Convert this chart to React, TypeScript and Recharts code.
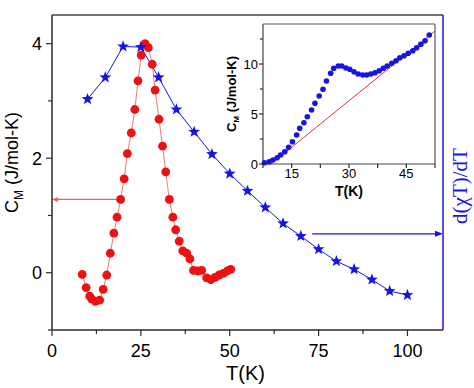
import React from "react";
import { ComposedChart, Line, ReferenceLine, XAxis, YAxis } from "recharts";

// main panel: magnetic heat capacity (red) and d(chiT)/dT (blue stars)
const redT = [
  8.5, 9.6, 10.6, 11.2, 12.2, 13.4, 14.4, 15.4, 16.4, 17.4, 18.3, 19.3, 20.3,
  21.2, 22.3, 23.3, 24.2, 25.1, 26.2, 27.1, 28.2, 29.0, 30.1, 31.1, 32.0, 33.0,
  34.0, 34.8, 35.8, 36.8, 37.9, 38.8, 39.8, 41.0, 42.1, 43.5, 44.7, 45.9, 47.0,
  48.2, 49.3, 50.3,
];
const redCm = [
  -0.03, -0.26, -0.41, -0.46, -0.5, -0.48, -0.29, -0.04, 0.34, 0.69, 0.97,
  1.28, 1.64, 2.08, 2.44, 2.85, 3.35, 3.8, 4.0, 3.93, 3.64, 3.19, 2.68, 2.21,
  1.76, 1.28, 0.97, 0.75, 0.55, 0.38, 0.34, 0.24, 0.04, 0.03, 0.04, -0.09,
  -0.12, -0.08, -0.04, -0.01, 0.03, 0.06,
];
const starT = [
  10, 15, 20, 25, 30, 35, 40, 45, 50, 55, 60, 65, 70, 75, 80, 85, 90, 95, 100,
];
const starD = [
  3.03, 3.41, 3.95, 3.94, 3.41, 2.85, 2.46, 2.07, 1.73, 1.43, 1.14, 0.86, 0.64,
  0.41, 0.2, 0.06, -0.12, -0.32, -0.39,
];
const mainXTicks = [0, 12.5, 25, 37.5, 50, 62.5, 75, 87.5, 100];
const mainXLabels = [0, 25, 50, 75, 100];
const mainYTicks = [-1, 0, 1, 2, 3, 4];
const mainYLabels = [0, 2, 4];

// inset: total C (blue) and lattice line (red)
const insetT = [
  7.9, 9.1, 10.1, 11.2, 12.1, 13.2, 14.2, 15.2, 16.3, 17.1, 18.2, 19.1, 20.2,
  21.1, 22.2, 23.2, 24.1, 25.2, 26.0, 27.2, 28.1, 29.2, 30.2, 31.3, 32.4, 33.6,
  34.6, 35.7, 36.8, 37.9, 39.0, 40.0, 41.2, 42.3, 43.3, 44.4, 45.5, 46.7, 47.7,
  48.8, 49.9, 51.0,
];
const insetC = [
  0.13, 0.23, 0.4, 0.63, 0.9, 1.23, 1.67, 2.23, 2.9, 3.57, 4.13, 4.73, 5.4,
  6.07, 6.8, 7.47, 8.3, 9.07, 9.57, 9.8, 9.8, 9.6, 9.47, 9.23, 9.0, 8.9, 8.9,
  9.0, 9.13, 9.33, 9.57, 9.8, 10.07, 10.33, 10.63, 10.83, 11.07, 11.33, 11.63,
  11.97, 12.33, 12.9,
];
const latticeT = [9.6, 52.5];
const latticeC = [0, 13.3];
const insetXTicks = [7.5, 15, 22.5, 30, 37.5, 45, 52.5];
const insetXLabels = [15, 30, 45];
const insetYTicks = [0, 2.5, 5, 7.5, 10, 12.5];
const insetYLabels = [0, 5, 10];

const zip = (xs: number[], ys: number[]) => xs.map((t, i) => ({ t, v: ys[i] }));
const redData = zip(redT, redCm);
const starData = zip(starT, starD);
const insetData = zip(insetT, insetC);
const latticeData = zip(latticeT, latticeC);

const SANS = "'Liberation Sans', Arial, sans-serif";
const SERIF = "'Liberation Serif', 'Times New Roman', serif";
const RED = "#ee1111";
const BLUE = "#1414e6";
const AXIS = "#2a2a2a";

type TickOpts = {
  axis: "x" | "y";
  labels: number[];
  size: number;
  gap: number;
  major: number;
  minor: number;
};

const isIn = (list: number[], v: number) => list.some((l) => Math.abs(l - v) < 1e-6);

// custom tick: tick line plus a label for the major values only
const makeTick = (o: TickOpts) => (props: any) => {
  const { x, y, payload } = props;
  const val = Number(payload.value);
  const isMajor = isIn(o.labels, val);
  const len = isMajor ? o.major : o.minor;
  if (o.axis === "x") {
    return (
      <g>
        <line x1={x} x2={x} y1={y} y2={y + len} stroke={AXIS} strokeWidth={1.2} />
        {isMajor && (
          <text x={x} y={y + o.gap} dy="0.36em" textAnchor="middle" fontSize={o.size}
            fontFamily={SANS} fill="#000">{String(val)}</text>
        )}
      </g>
    );
  }
  return (
    <g>
      <line x1={x - len} x2={x} y1={y} y2={y} stroke={AXIS} strokeWidth={1.2} />
      {isMajor && (
        <text x={x - o.gap} y={y} dy="0.36em" textAnchor="end" fontSize={o.size}
          fontFamily={SANS} fill="#000">{String(val)}</text>
      )}
    </g>
  );
};

const Star = (props: any) => {
  const { cx, cy } = props;
  if (cx == null || cy == null) return <g />;
  const pts = Array.from({ length: 10 }, (_, i) => {
    const a = ((-90 + i * 36) * Math.PI) / 180;
    const r = i % 2 ? 2.6 : 6.2;
    return `${cx + r * Math.cos(a)},${cy + r * Math.sin(a)}`;
  }).join(" ");
  return <polygon points={pts} fill={BLUE} />;
};

const arrow = (color: string, len: number, half: number) => (p: any) => {
  const x1 = Number(p.x1), x2 = Number(p.x2), y1 = Number(p.y1), y2 = Number(p.y2);
  const dir = Math.sign(x2 - x1);
  return (
    <g>
      <line x1={x1} y1={y1} x2={x2 - dir * len} y2={y2} stroke={color} strokeWidth={1.2} />
      <polygon points={`${x2},${y2} ${x2 - dir * len},${y2 - half} ${x2 - dir * len},${y2 + half}`} fill={color} />
    </g>
  );
};

const CmTitle = ({ cx, cy, size, sub, bold }: any) => (
  <text transform={`translate(${cx},${cy}) rotate(-90)`} textAnchor="middle"
    fontSize={size} fontFamily={SANS} fontWeight={bold ? "bold" : "normal"} fill="#000">
    C<tspan fontSize={sub} dy={size * 0.25}>M</tspan>
    <tspan dy={-size * 0.25}> (J/mol-K)</tspan>
  </text>
);

const MainYTitle = (props: any) => {
  const vb = props.viewBox || { x: 0, y: 15, width: 52, height: 315 };
  return <CmTitle cx={vb.x + 18} cy={vb.y + vb.height / 2 - 10} size={18} sub={12} />;
};
const MainXTitle = (props: any) => {
  const vb = props.viewBox || { x: 52, y: 330, width: 391, height: 58 };
  return (
    <text x={vb.x + vb.width / 2 - 2} y={vb.y + 43} dy="0.36em" textAnchor="middle"
      fontSize={20} fontFamily={SANS} fill="#000">T(K)</text>
  );
};
const RightTitle = (props: any) => {
  const vb = props.viewBox || { x: 443, y: 15, width: 31, height: 315 };
  const cx = vb.x + 24;
  const cy = 186;
  return (
    <text transform={`translate(${cx},${cy}) rotate(-90)`} textAnchor="middle"
      fontSize={21} fontFamily={SERIF} fill={BLUE}>d(χT)/dT</text>
  );
};
const InsetYTitle = (props: any) => {
  const vb = props.viewBox || { x: 0, y: 6, width: 49, height: 140 };
  return <CmTitle cx={vb.x + 22} cy={vb.y + vb.height / 2} size={13} sub={8} bold />;
};

const App = () => (
  <div style={{ position: "absolute", left: 0, top: 0, width: 474, height: 388, background: "#fff" }}>
    <div style={{ position: "absolute", left: 0, top: 0, zIndex: 1 }}>
      <ComposedChart width={474} height={388} margin={{ top: 15, right: 0, bottom: 0, left: 0 }}>
        <XAxis type="number" dataKey="t" domain={[0, 110]} ticks={mainXTicks} allowDataOverflow interval={0}
          height={58} tickSize={0} tickMargin={0} tickLine={false}
          tick={makeTick({ axis: "x", labels: mainXLabels, size: 18, gap: 21, major: 6, minor: 4 })}
          axisLine={{ stroke: AXIS, strokeWidth: 1.5 }} label={<MainXTitle />} />
        <YAxis yAxisId="l" type="number" domain={[-1, 4.5]} ticks={mainYTicks} allowDataOverflow interval={0}
          width={52} tickSize={0} tickMargin={0} tickLine={false}
          tick={makeTick({ axis: "y", labels: mainYLabels, size: 18, gap: 10, major: 6, minor: 4 })}
          axisLine={{ stroke: AXIS, strokeWidth: 1.5 }} label={<MainYTitle />} />
        <YAxis yAxisId="r" orientation="right" type="number" domain={[-1, 4.5]} allowDataOverflow
          width={31} tick={false} tickLine={false}
          axisLine={{ stroke: BLUE, strokeWidth: 1.5 }} label={<RightTitle />} />
        <ReferenceLine yAxisId="l" y={4.5} stroke="#444" strokeWidth={1.5} ifOverflow="visible" />
        <Line yAxisId="l" data={redData} dataKey="v" stroke="#f07a7a" strokeWidth={1}
          dot={{ r: 4.4, fill: RED, stroke: "none" }} isAnimationActive={false} />
        <Line yAxisId="r" data={starData} dataKey="v" stroke={BLUE} strokeWidth={1}
          dot={<Star />} isAnimationActive={false} />
        <ReferenceLine yAxisId="l" ifOverflow="visible" segment={[{ x: 18.3, y: 1.28 }, { x: 0, y: 1.28 }]}
          shape={arrow("#f06060", 6, 2.5)} />
        <ReferenceLine yAxisId="l" ifOverflow="visible" segment={[{ x: 73.2, y: 0.68 }, { x: 110, y: 0.68 }]}
          shape={arrow(BLUE, 8, 3)} />
      </ComposedChart>
    </div>

    <div style={{ position: "absolute", left: 214, top: 18, zIndex: 2 }}>
      <ComposedChart width={226} height={182} margin={{ top: 6, right: 5, bottom: 0, left: 0 }}>
        <XAxis type="number" dataKey="t" domain={[7.5, 52.5]} ticks={insetXTicks} interval={0}
          height={36} tickSize={4} tickMargin={1}
          tickFormatter={(v: number) => (isIn(insetXLabels, v) ? String(v) : "")}
          tick={{ fontSize: 13, fontFamily: SANS, fill: "#000" }}
          tickLine={{ stroke: AXIS, strokeWidth: 1.2 }}
          axisLine={{ stroke: "#444", strokeWidth: 1.2 }} />
        <YAxis type="number" domain={[0, 14]} ticks={insetYTicks} interval={0}
          width={49} tickSize={0} tickMargin={0} tickLine={false}
          tick={makeTick({ axis: "y", labels: insetYLabels, size: 13, gap: 5, major: 4, minor: 3 })}
          axisLine={{ stroke: "#444", strokeWidth: 1.2 }} label={<InsetYTitle />} />
        <ReferenceLine y={14} stroke="#555" strokeWidth={1.2} ifOverflow="visible" />
        <ReferenceLine x={52.5} stroke="#555" strokeWidth={1.2} ifOverflow="visible" />
        <Line data={insetData} dataKey="v" stroke="none" dot={{ r: 2.8, fill: BLUE, stroke: "none" }}
          isAnimationActive={false} />
        <Line data={latticeData} dataKey="v" stroke="#e62e2e" strokeWidth={1} dot={false}
          isAnimationActive={false} />
      </ComposedChart>
    </div>
    <div style={{
      position: "absolute", left: 263, top: 183, width: 172, lineHeight: "16px", zIndex: 3,
      textAlign: "center", fontSize: 14, fontWeight: "bold", fontFamily: SANS, color: "#000",
    }}>
      T(K)
    </div>
  </div>
);

export default App;
